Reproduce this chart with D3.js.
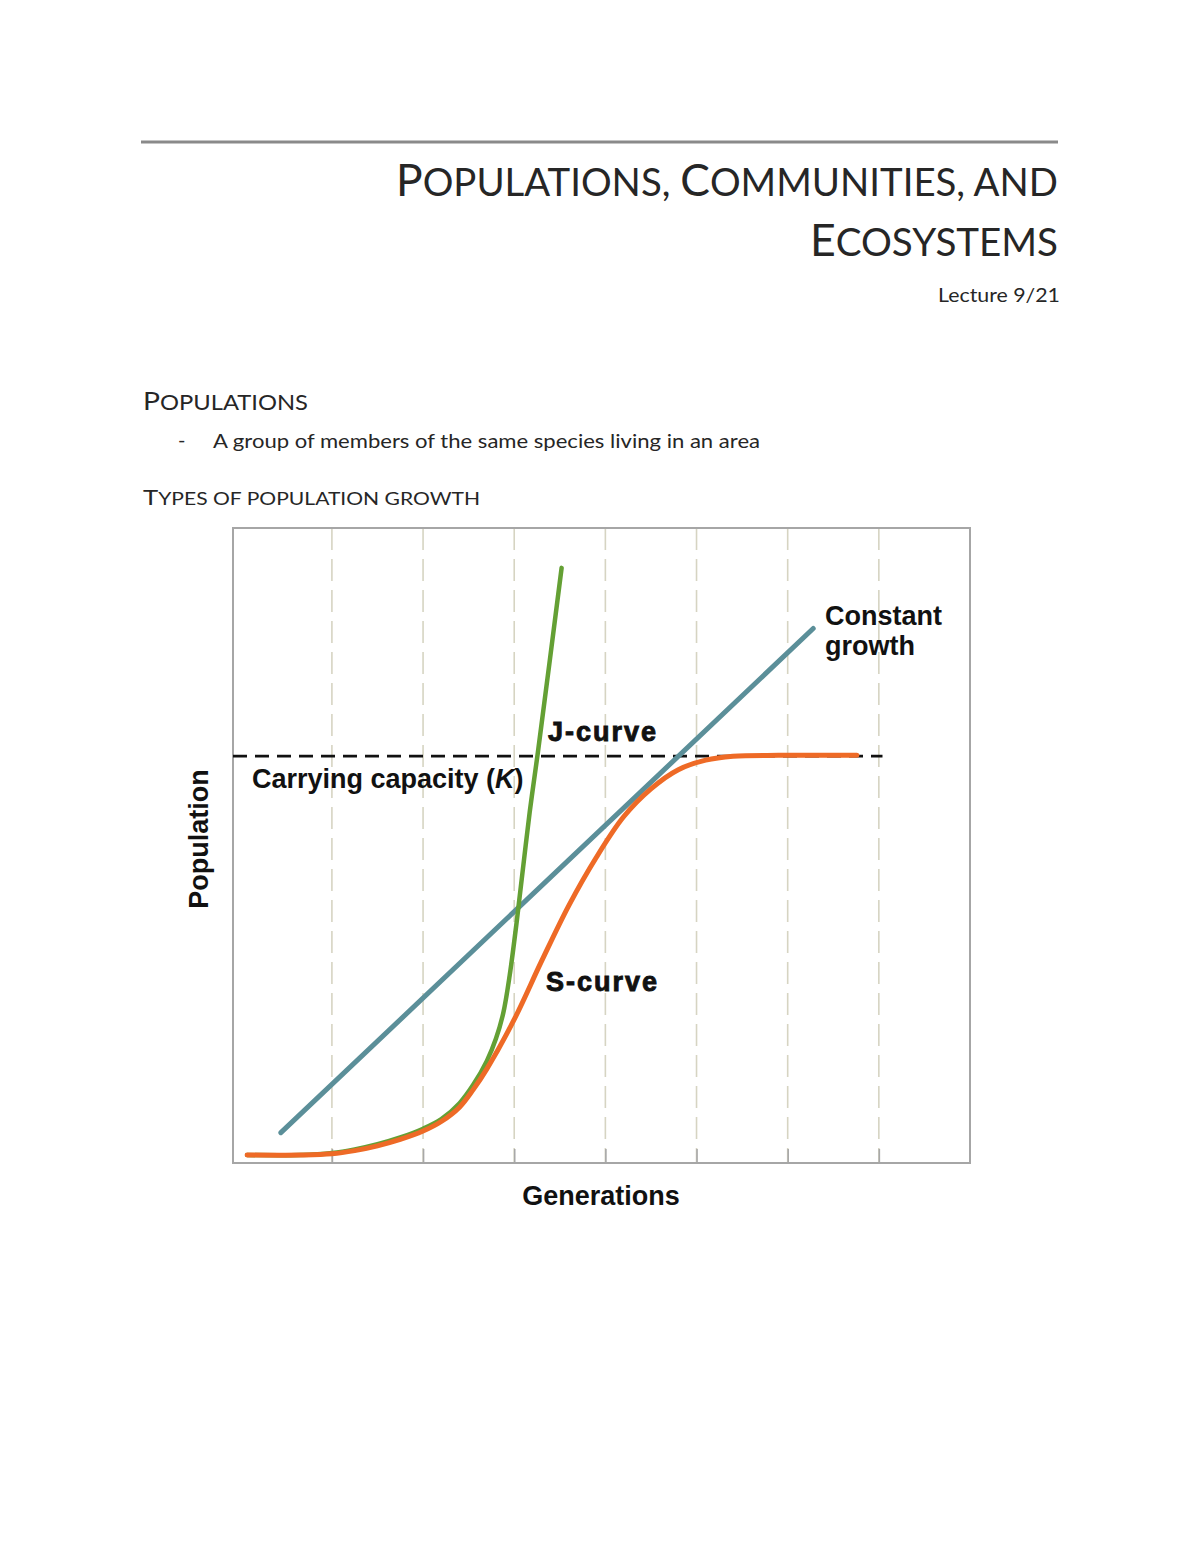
<!DOCTYPE html>
<html>
<head>
<meta charset="utf-8">
<script src="https://cdn.jsdelivr.net/npm/d3@7"></script>
<style>
  body { margin: 0; background: #fff; }
  svg { display: block; }
</style>
</head>
<body>
<svg id="page"></svg>
<script>
// generations (x) and population (y), K = 50
var carryingK = 50;
var gridGens = [1, 2, 3, 4, 5, 6, 7];

var constantX = [0.44, 6.28];
var constantY = [2.8, 66.0];

var jX = [0.07, 0.65, 1.0, 1.25, 1.5, 1.75, 2.0, 2.2, 2.4, 2.55, 2.7, 2.8, 2.88, 2.95, 3.03, 3.1, 3.17, 3.26, 3.52];
var jY = [0, 0, 0.25, 0.7, 1.35, 2.2, 3.3, 4.5, 6.5, 8.8, 11.8, 14.6, 17.8, 22.5, 29.5, 36.3, 43.0, 50.5, 73.6];

var sX = [0.07, 0.65, 1.0, 1.25, 1.5, 1.75, 2.0, 2.2, 2.4, 2.55, 2.7, 3.0, 3.3, 3.6, 3.9, 4.2, 4.5, 4.8, 5.1, 5.4, 5.9, 6.76];
var sY = [0, 0, 0.15, 0.55, 1.15, 1.95, 3.0, 4.2, 6.0, 8.2, 10.8, 17.0, 24.3, 31.3, 37.3, 42.4, 45.9, 48.3, 49.5, 50.0, 50.1, 50.1];

var kX = [-0.085, 7.04];

var screen = { width: 1200, height: 1553 };

var svg = d3.select("#page")
  .attr("width", screen.width)
  .attr("height", screen.height);

// ---- document header ----
var ink = "#262626";

// draws small caps: capitals at big size, the rest upper-cased at small size
var smallCaps = function(g, str, x, y, big, small, anchor, fitWidth)
{
  var t = g.append("text")
    .attr("x", x).attr("y", y)
    .attr("text-anchor", anchor)
    .attr("font-family", "Lato, 'Open Sans', sans-serif")
    .attr("fill", ink);
  var runs = [];
  str.split("").forEach(function(ch){
    var isBig = ch !== ch.toLowerCase();
    var last = runs[runs.length - 1];
    if (last && last.big === isBig) last.s += ch;
    else runs.push({ big: isBig, s: ch });
  });
  runs.forEach(function(r){
    t.append("tspan")
      .attr("font-size", r.big ? big : small)
      .text(r.s.toUpperCase());
  });
  if (fitWidth) t.attr("textLength", fitWidth).attr("lengthAdjust", "spacingAndGlyphs");
  return t;
}

var head = svg.append("g").attr("class", "header");

head.append("line")
  .attr("x1", 141).attr("x2", 1058)
  .attr("y1", 142).attr("y2", 142)
  .attr("stroke", "#8a8a8a").attr("stroke-width", 3);

smallCaps(head, "Populations, Communities, and", 1058, 196, 44, 38, "end", 662);
smallCaps(head, "Ecosystems", 1058, 256, 44, 38, "end", 248);

head.append("text")
  .attr("x", 1060).attr("y", 302)
  .attr("text-anchor", "end")
  .attr("font-family", "Lato, sans-serif")
  .attr("font-size", 20)
  .attr("fill", ink)
  .attr("textLength", 122).attr("lengthAdjust", "spacingAndGlyphs")
  .text("Lecture 9/21");

smallCaps(head, "Populations", 143, 410, 25, 21, "start", 165);

head.append("text")
  .attr("x", 178).attr("y", 447)
  .attr("font-family", "Lato, sans-serif")
  .attr("font-size", 20)
  .attr("fill", ink)
  .text("-");

head.append("text")
  .attr("x", 213).attr("y", 448)
  .attr("font-family", "Lato, sans-serif")
  .attr("font-size", 20)
  .attr("fill", ink)
  .attr("textLength", 547).attr("lengthAdjust", "spacingAndGlyphs")
  .text("A group of members of the same species living in an area");

smallCaps(head, "Types of population growth", 143, 505, 22, 18, "start", 337);

// ---- chart ----
var margins = { top: 528, left: 233, right: 230, bottom: 390 };
var width = screen.width - margins.left - margins.right;
var height = screen.height - margins.top - margins.bottom;

var xScale = d3.scaleLinear()
  .domain([-0.085, 8])
  .range([0, width]);
var yScale = d3.scaleLinear()
  .domain([-1, 78.6])
  .range([height, 0]);

var chart = svg.append("g")
  .attr("transform", "translate(" + margins.left + "," + margins.top + ")");

// dashed vertical grid
chart.append("g").attr("class", "grid")
  .selectAll("line")
  .data(gridGens)
  .enter().append("line")
  .attr("x1", function(d){ return xScale(d); })
  .attr("x2", function(d){ return xScale(d); })
  .attr("y1", 0).attr("y2", height)
  .attr("stroke", "#d6d4c2")
  .attr("stroke-width", 1.6)
  .attr("stroke-dasharray", "22,9");

// short solid ticks along the bottom
var xAxis = d3.axisBottom(xScale)
  .tickValues(gridGens)
  .tickSize(-14)
  .tickFormat("");
chart.append("g").classed("xAxis", true)
  .attr("transform", "translate(0," + height + ")")
  .call(xAxis)
  .call(function(g){
    g.select(".domain").remove();
    g.selectAll(".tick line").attr("stroke", "#a8a8a8").attr("stroke-width", 1.6);
  });

// frame
chart.append("rect")
  .attr("x", 0).attr("y", 0)
  .attr("width", width).attr("height", height)
  .attr("fill", "none")
  .attr("stroke", "#a6a6a6")
  .attr("stroke-width", 2);

var drawLine = d3.line()
  .x(function(d){ return xScale(d[0]); })
  .y(function(d){ return yScale(d[1]); });
var drawCurve = d3.line()
  .x(function(d){ return xScale(d[0]); })
  .y(function(d){ return yScale(d[1]); })
  .curve(d3.curveCatmullRom.alpha(0.5));

var zip = function(xs, ys){ return xs.map(function(x, i){ return [x, ys[i]]; }); };

// carrying capacity
chart.append("path")
  .datum(zip(kX, [carryingK, carryingK]))
  .attr("d", drawLine)
  .attr("fill", "none")
  .attr("stroke", "#111")
  .attr("stroke-width", 2.8)
  .attr("stroke-dasharray", "14,8");

chart.append("path").attr("class", "constant")
  .datum(zip(constantX, constantY))
  .attr("d", drawLine)
  .attr("fill", "none")
  .attr("stroke", "#5b8f99")
  .attr("stroke-width", 5)
  .attr("stroke-linecap", "round");

chart.append("path").attr("class", "jcurve")
  .datum(zip(jX, jY))
  .attr("d", drawCurve)
  .attr("fill", "none")
  .attr("stroke", "#64a034")
  .attr("stroke-width", 4.5)
  .attr("stroke-linecap", "round");

chart.append("path").attr("class", "scurve")
  .datum(zip(sX, sY))
  .attr("d", drawCurve)
  .attr("fill", "none")
  .attr("stroke", "#ee6a26")
  .attr("stroke-width", 5)
  .attr("stroke-linecap", "round");

// labels
var label = function(x, y, txt, heavy)
{
  var t = chart.append("text")
    .attr("x", x).attr("y", y)
    .attr("font-family", "'Liberation Sans', Arial, sans-serif")
    .attr("font-weight", "bold")
    .attr("font-size", 27)
    .attr("fill", "#111")
    .text(txt);
  if (heavy) t.attr("letter-spacing", 2).attr("stroke", "#111").attr("stroke-width", 0.9);
  return t;
}

label(548 - margins.left, 741 - margins.top, "J-curve", true);
label(546 - margins.left, 991 - margins.top, "S-curve", true);
label(825 - margins.left, 625 - margins.top, "Constant");
label(825 - margins.left, 655 - margins.top, "growth");

var cap = label(252 - margins.left, 788 - margins.top, "Carrying capacity (");
cap.append("tspan").attr("font-style", "italic").text("K");
cap.append("tspan").text(")");

// axis titles
chart.append("text")
  .attr("transform", "translate(" + (208 - margins.left) + "," + (839 - margins.top) + ") rotate(-90)")
  .attr("text-anchor", "middle")
  .attr("font-family", "'Liberation Sans', Arial, sans-serif")
  .attr("font-weight", "bold")
  .attr("font-size", 27)
  .attr("fill", "#111")
  .text("Population");

chart.append("text")
  .attr("x", 601 - margins.left)
  .attr("y", 1205 - margins.top)
  .attr("text-anchor", "middle")
  .attr("font-family", "'Liberation Sans', Arial, sans-serif")
  .attr("font-weight", "bold")
  .attr("font-size", 27)
  .attr("fill", "#111")
  .text("Generations");
</script>
</body>
</html>
